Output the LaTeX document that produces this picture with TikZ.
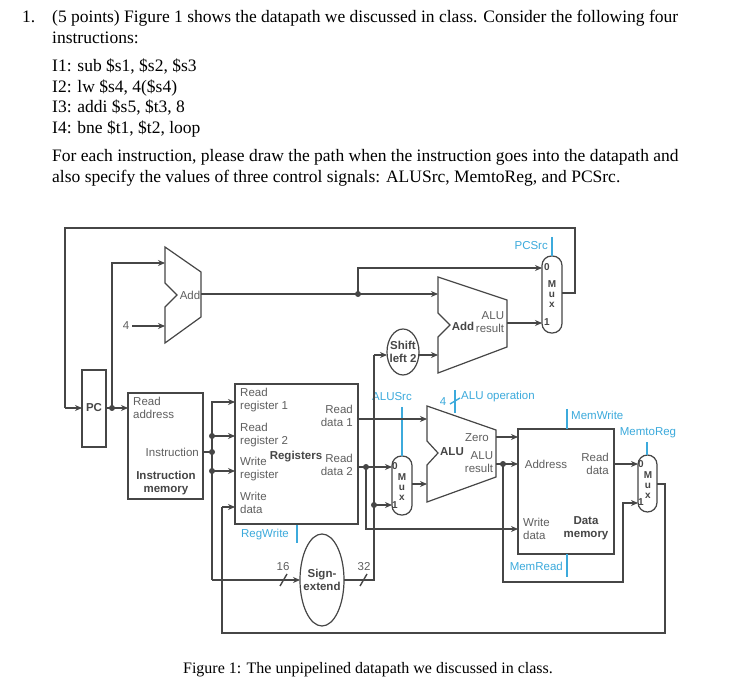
\documentclass[tikz,border=0pt]{standalone}
\usepackage{fontspec}
\setmainfont{Liberation Serif}
\newfontfamily\arialf{Liberation Sans}
\usetikzlibrary{arrows.meta}
\definecolor{ln}{RGB}{70,70,70}
\definecolor{tx}{RGB}{95,95,95}
\definecolor{cy}{RGB}{60,170,220}
\begin{document}
\begin{tikzpicture}[x=1pt,y=-1pt,
  w/.style={draw=ln,line width=1.4pt},
  a/.style={w,-{Stealth[length=7pt,width=6pt]}},
  box/.style={draw=ln,line width=1.2pt},
  lb/.style={font=\arialf\fontsize{11.5}{13}\selectfont,text=tx,inner sep=0pt,align=left},
  bl/.style={font=\arialf\bfseries\fontsize{11.5}{13}\selectfont,text=ln,inner sep=0pt,align=center},
  cl/.style={font=\arialf\fontsize{11.5}{13}\selectfont,text=cy,inner sep=0pt},
  cw/.style={draw=cy,line width=1.4pt},
  dot/.style={circle,fill=ln,inner sep=0pt,minimum size=6pt},
  mx/.style={font=\arialf\bfseries\fontsize{10}{10}\selectfont,text=ln,inner sep=0pt,align=center},
  tt/.style={font=\fontsize{17.5}{20}\selectfont,inner sep=0pt,anchor=base west}]
\useasboundingbox (0,0) rectangle (731,692);
\fill[white] (0,0) rectangle (731,692);
% top text
\node[tt] (q1) at (22,23) {1.};
\node[tt] (t1) at (52,23) {(5 points) Figure 1 shows the datapath we discussed in class. Consider the following four};
\node[tt] (t2) at (52,44) {instructions:};
\node[tt] (t3) at (52,72) {I1: sub \$s1, \$s2, \$s3};
\node[tt] (t4) at (52,93) {I2: lw \$s4, 4(\$s4)};
\node[tt] (t5) at (52,113) {I3: addi \$s5, \$t3, 8};
\node[tt] (t6) at (52,134) {I4: bne \$t1, \$t2, loop};
\node[tt] (t7) at (52,162) {For each instruction, please draw the path when the instruction goes into the datapath and};
\node[tt] (t8) at (52,183) {also specify the values of three control signals: ALUSrc, MemtoReg, and PCSrc.};
\node[font=\fontsize{16}{18}\selectfont,inner sep=0pt] (cap) at (368,670) {Figure 1: The unpipelined datapath we discussed in class.};

% PC
\draw[box] (82,370) rectangle (106,447);
\node[bl] (pc) at (94,408) {PC};
% instruction memory
\draw[box] (128,393) rectangle (203,499);
\node[lb,anchor=north west] (ra) at (133,397) {Read\\address};
\node[lb,anchor=east] (ins) at (199,452) {Instruction};
\node[bl] (im) at (166,483) {Instruction\\memory};
% registers
\draw[box] (235,384) rectangle (358,524);
\node[lb,anchor=north west] (rr1) at (240,388) {Read\\register 1};
\node[lb,anchor=north west] (rr2) at (240,423) {Read\\register 2};
\node[lb,anchor=north west] (wr) at (240,457) {Write\\register};
\node[lb,anchor=north west] (wd) at (240,492) {Write\\data};
\node[lb,anchor=north east,align=right] (rd1) at (353,405) {Read\\data 1};
\node[lb,anchor=north east,align=right] (rd2) at (353,454) {Read\\data 2};
\node[bl] (regs) at (296,457) {Registers};
\node[cl] (rw) at (265,535) {RegWrite};
\draw[cw] (297,525) -- (297,543);
% sign extend
\draw[box] (322,580) ellipse (22 and 46);
\node[bl] (se) at (322,580) {Sign-\\extend};
% shift left 2
\draw[box] (403,352) ellipse (16 and 23);
\node[bl] (sl) at (403,352) {Shift\\left 2};
% Add (PC+4)
\draw[box] (165,247) -- (201,272) -- (201,317) -- (165,343) -- (165,307) -- (177,295) -- (165,283) -- cycle;
\node[lb] (add1) at (190,295) {Add};
% branch adder
\draw[box] (438,277) -- (507,300) -- (507,347) -- (438,373) -- (438,337) -- (450,325) -- (438,313) -- cycle;
\node[bl] (add2) at (463,326) {Add};
\node[lb,align=right] (add2r) at (490,322) {ALU\\result};
% ALU
\draw[box] (427,406) -- (496,430) -- (496,477) -- (427,502) -- (427,465) -- (438,453) -- (427,441) -- cycle;
\node[bl] (alu) at (452,452) {ALU};
\node[lb] (zero) at (477,438) {Zero};
\node[lb,align=right] (alur) at (479,462) {ALU\\result};
% data memory
\draw[box] (518,429) rectangle (614,554);
\node[lb] (addr) at (546,464) {Address};
\node[lb,anchor=east,align=right] (mrd) at (609,464) {Read\\data};
\node[lb,anchor=west] (mwd) at (523,529) {Write\\data};
\node[bl] (dm) at (586,528) {Data\\memory};
% muxes
\draw[box,rounded corners=9.5pt] (542,256) rectangle (562,333);
\node[mx] (m1) at (552,294) {M\\u\\x};
\node[mx] at (547,267) {0}; \node[mx] at (547,322) {1};
\draw[box,rounded corners=9.5pt] (392,456) rectangle (412,515);
\node[mx] (m2) at (402,487) {M\\u\\x};
\node[mx] at (395,466) {0}; \node[mx] at (395,505) {1};
\draw[box,rounded corners=9.5pt] (638,455) rectangle (657,512);
\node[mx] (m3) at (648,485) {M\\u\\x};
\node[mx] at (641,464) {0}; \node[mx] at (641,502) {1};
% control labels
\node[cl,anchor=east] (pcs) at (548,246) {PCSrc};
\draw[cw] (552,237) -- (552,256);
\node[cl] (alus) at (392,397) {ALUSrc};
\draw[cw] (402,407) -- (402,456);
\node[cl,anchor=west] (aop) at (461,397) {ALU operation};
\node[cl] (four2) at (443,402) {4};
\draw[cw] (455,390) -- (455,413);
\draw[cw] (450,404) -- (460,398);
\node[cl,anchor=west] (mw) at (571,415) {MemWrite};
\draw[cw] (567,409) -- (567,429);
\node[cl] (mtr) at (648,433) {MemtoReg};
\draw[cw] (647,442) -- (647,455);
\node[cl,anchor=east] (mr) at (563,566) {MemRead};
\draw[cw] (567,554) -- (567,577);
% wires
\draw[w] (562,293) -- (575,293) -- (575,228) -- (65,228) -- (65,408);
\draw[a] (65,408) -- (82,408);
\node[dot] (d1) at (112,408) {};
\draw[a] (106,408) -- (128,408);
\draw[a] (112,408) -- (112,263) -- (165,263);
\node[lb] (four) at (126,326) {4};
\draw[a] (132,326) -- (165,326);
\node[dot] (d2) at (358,294) {};
\draw[a] (201,294) -- (438,294);
\draw[a] (358,294) -- (358,268) -- (542,268);
\draw[a] (507,323) -- (542,323);
\draw[a] (419,355) -- (438,355);
% instruction bus
\draw[w] (203,452) -- (212,452);
\node[dot] at (212,452) {};
\draw[a] (212,580) -- (212,402) -- (235,402);
\node[dot] at (212,436) {};
\draw[a] (212,436) -- (235,436);
\node[dot] at (212,471) {};
\draw[a] (212,471) -- (235,471);
\draw[a] (212,580) -- (300,580);
\draw[w] (280,586) -- (287,574); \node[lb] at (283,567) {16};
\draw[w] (360,586) -- (367,574); \node[lb] at (364,567) {32};
% sign extend out
\draw[w] (344,580) -- (374,580) -- (374,355);
\draw[a] (374,355) -- (387,355);
\node[dot] at (374,505) {};
\draw[a] (374,505) -- (392,505);
% read data
\draw[a] (358,419) -- (427,419);
\draw[a] (358,467) -- (392,467);
\node[dot] at (366,467) {};
\draw[a] (366,467) -- (366,529) -- (518,529);
\draw[a] (412,484) -- (427,484);
% ALU out
\draw[a] (496,437) -- (518,437);
\draw[a] (496,464) -- (518,464);
\node[dot] at (503,464) {};
\draw[a] (503,464) -- (503,582) -- (623,582) -- (623,503) -- (638,503);
\draw[a] (614,464) -- (638,464);
% writeback
\draw[w] (657,484) -- (665,484) -- (665,633) -- (222,633) -- (222,507);
\draw[a] (222,507) -- (235,507);
\end{tikzpicture}
\end{document}
